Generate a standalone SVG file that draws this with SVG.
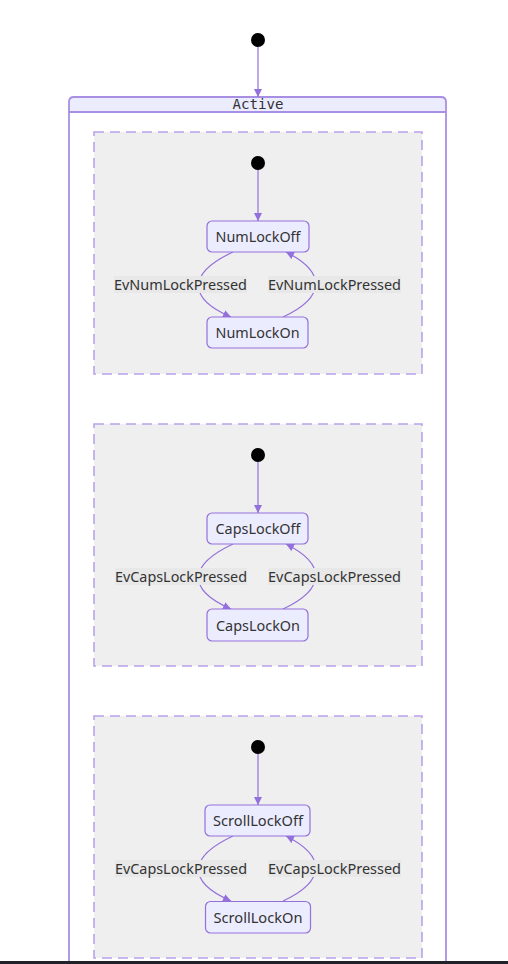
<svg xmlns="http://www.w3.org/2000/svg" width="508" height="964" viewBox="0 0 508 964">
<style>
.start{fill:#000}
.node rect{fill:#ECECFF;stroke:#9370DB;stroke-width:1.2}
.node text{font-family:"Noto Sans","Open Sans",sans-serif;font-size:14.5px;fill:#333;text-anchor:middle}
.region{fill:#efefef;stroke:#b9a3ec;stroke-width:1.6;stroke-dasharray:10 6}
.edge{fill:none;stroke:#9370DB;stroke-width:1.2;marker-end:url(#arr)}
.lblbg{fill:#e8e8e8}
.lbl{font-family:"Noto Sans","Open Sans",sans-serif;font-size:14.5px;fill:#333;text-anchor:middle}
</style>
<defs>
<marker id="arr" viewBox="0 0 10 10" refX="10" refY="5" markerWidth="8" markerHeight="8" markerUnits="userSpaceOnUse" orient="auto">
<path d="M0,0 L10,5 L0,10 z" fill="#9370DB"/>
</marker>
</defs>
<rect width="508" height="964" fill="#fff"/>
<g id="root-start"><circle class="start" cx="258" cy="40" r="7"/></g>
<g id="Active">
<path d="M69,112 V102 Q69,97 74,97 H441 Q446,97 446,102 V112 Z" fill="#ECECFF"/>
<path d="M69,964 V102 Q69,97 74,97 H441 Q446,97 446,102 V964" fill="none" stroke="#a98fe3" stroke-width="1.8"/>
<line x1="69" y1="112" x2="446" y2="112" stroke="#a98fe3" stroke-width="1.8"/>
<text x="258" y="109" font-family="'DejaVu Sans Mono','Liberation Mono',monospace" font-size="14" fill="#333" text-anchor="middle" textLength="51" lengthAdjust="spacingAndGlyphs">Active</text>
</g>
<g id="region-num"><rect class="region" x="94" y="132" width="328" height="242"/><circle class="start" cx="258" cy="163" r="7"/></g>
<g id="region-caps"><rect class="region" x="94" y="424" width="328" height="242"/><circle class="start" cx="258" cy="455" r="7"/></g>
<g id="region-scroll"><rect class="region" x="94" y="716" width="328" height="242"/><circle class="start" cx="258" cy="747" r="7"/></g>
<g id="connectors">
<line class="edge" x1="258" y1="47" x2="258" y2="97"/>
<line class="edge" x1="258" y1="170" x2="258" y2="221"/>
<path class="edge" d="M233,252 C190,272 185,297 231,317"/>
<path class="edge" d="M283,317 C326,297 326,272 286,252"/>
<line class="edge" x1="258" y1="462" x2="258" y2="513"/>
<path class="edge" d="M233,544 C190,564 185,589 231,609"/>
<path class="edge" d="M283,609 C326,589 326,564 286,544"/>
<line class="edge" x1="258" y1="754" x2="258" y2="805"/>
<path class="edge" d="M233,836 C190,856 185,881 231,901"/>
<path class="edge" d="M283,901 C326,881 326,856 286,836"/>
<rect class="lblbg" x="114" y="276" width="133" height="17"/>
<text class="lbl" x="180.5" y="290" textLength="133" lengthAdjust="spacingAndGlyphs">EvNumLockPressed</text>
<rect class="lblbg" x="268" y="276" width="133" height="17"/>
<text class="lbl" x="334.5" y="290" textLength="133" lengthAdjust="spacingAndGlyphs">EvNumLockPressed</text>
<rect class="lblbg" x="115" y="568" width="132" height="17"/>
<text class="lbl" x="181" y="582" textLength="132" lengthAdjust="spacingAndGlyphs">EvCapsLockPressed</text>
<rect class="lblbg" x="268" y="568" width="133" height="17"/>
<text class="lbl" x="334.5" y="582" textLength="133" lengthAdjust="spacingAndGlyphs">EvCapsLockPressed</text>
<rect class="lblbg" x="115" y="860" width="132" height="17"/>
<text class="lbl" x="181" y="874" textLength="132" lengthAdjust="spacingAndGlyphs">EvCapsLockPressed</text>
<rect class="lblbg" x="268" y="860" width="133" height="17"/>
<text class="lbl" x="334.5" y="874" textLength="133" lengthAdjust="spacingAndGlyphs">EvCapsLockPressed</text>
</g>
<g id="NumLockOff" class="node"><rect x="207" y="221" width="102" height="31" rx="5"/><text x="258" y="242" textLength="85" lengthAdjust="spacingAndGlyphs">NumLockOff</text></g>
<g id="NumLockOn" class="node"><rect x="207" y="317" width="101" height="31" rx="5"/><text x="257.5" y="338" textLength="84" lengthAdjust="spacingAndGlyphs">NumLockOn</text></g>
<g id="CapsLockOff" class="node"><rect x="207" y="513" width="101" height="31" rx="5"/><text x="258" y="534" textLength="85" lengthAdjust="spacingAndGlyphs">CapsLockOff</text></g>
<g id="CapsLockOn" class="node"><rect x="207" y="609" width="101" height="32" rx="5"/><text x="258" y="630.5" textLength="84" lengthAdjust="spacingAndGlyphs">CapsLockOn</text></g>
<g id="ScrollLockOff" class="node"><rect x="205" y="805" width="105" height="31" rx="5"/><text x="258" y="826" textLength="90" lengthAdjust="spacingAndGlyphs">ScrollLockOff</text></g>
<g id="ScrollLockOn" class="node"><rect x="205.5" y="901.5" width="105" height="31.5" rx="5"/><text x="258" y="922.5" textLength="89" lengthAdjust="spacingAndGlyphs">ScrollLockOn</text></g>
<rect x="0" y="961" width="508" height="3" fill="#1f2329"/>
</svg>
